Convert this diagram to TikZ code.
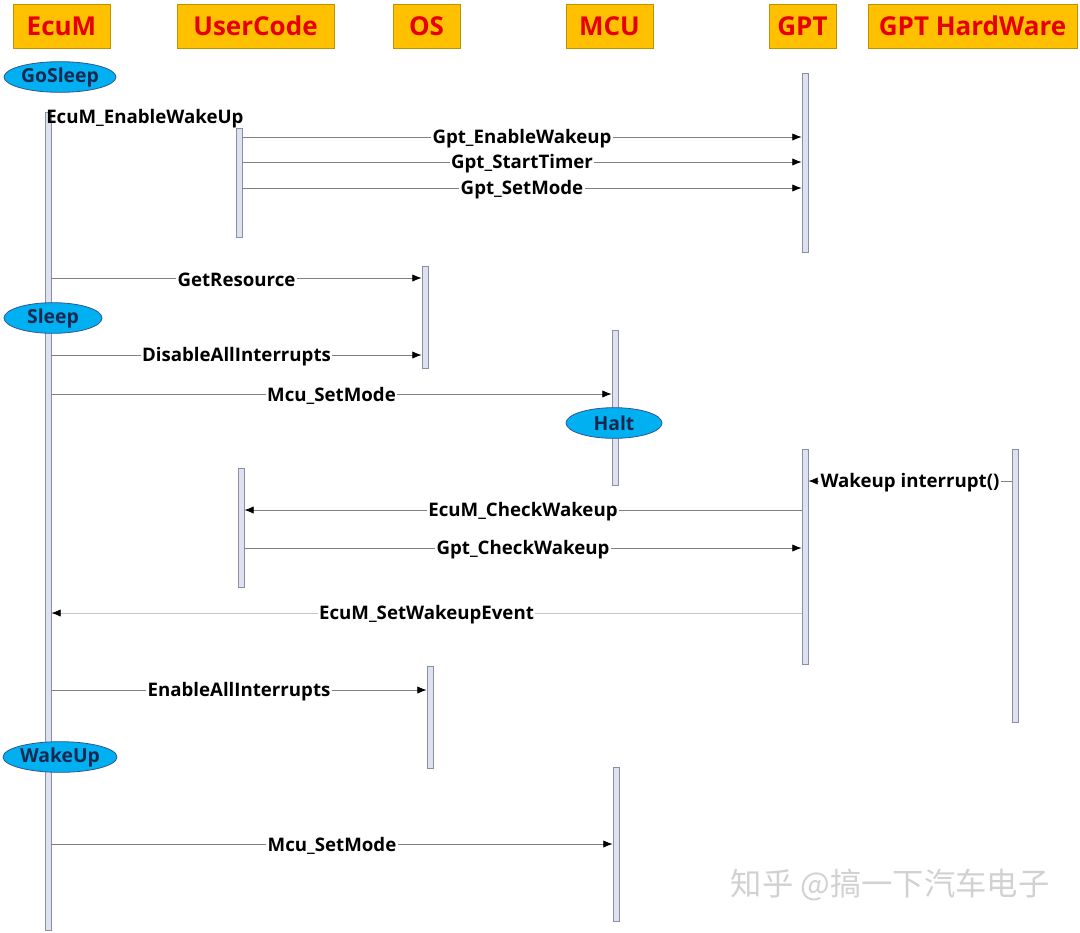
\documentclass[tikz,border=0pt]{standalone}
\usepackage{fontspec}
\setmainfont{Open Sans}
\newfontfamily\cjkwm{Noto Sans CJK SC}
\usetikzlibrary{arrows.meta, positioning, shapes.geometric, fit}
\definecolor{headFill}{RGB}{255, 192, 0}
\definecolor{headDraw}{RGB}{191, 144, 0}
\definecolor{headText}{RGB}{230, 0, 0}
\definecolor{ovalFill}{RGB}{0, 176, 240}
\definecolor{ovalDraw}{RGB}{47, 85, 151}
\definecolor{ovalText}{RGB}{24, 40, 80}
\definecolor{barFill}{RGB}{222, 226, 240}
\definecolor{barDraw}{RGB}{138, 143, 165}
\definecolor{msgLine}{gray}{0.5}
\definecolor{markText}{gray}{0.82}

\begin{document}
\begin{tikzpicture}[
        x=0.75pt,
        y=-0.75pt,
        headBox/.style={
            rectangle,
            draw=headDraw,
            fill=headFill,
            line width=0.6pt,
            minimum height=33pt,
            inner sep=0pt,
            text=headText,
            font=\fontsize{19.5}{22}\selectfont\bfseries
        },
        stateOval/.style={
            ellipse,
            draw=ovalDraw,
            fill=ovalFill,
            line width=0.6pt,
            inner sep=0pt,
            minimum height=23pt,
            text=ovalText,
            font=\fontsize{14.5}{16}\selectfont\bfseries
        },
        lifeBar/.style={rectangle, draw=barDraw, fill=barFill, line width=0.6pt, inner sep=0pt},
        msgArrow/.style={draw=msgLine, line width=0.6pt, -{Latex[length=7pt, width=5.5pt, black]}},
        msgLabel/.style={fill=white, inner sep=1pt, text=black, font=\fontsize{14}{16}\selectfont\bfseries}
    ]
        \useasboundingbox (0,0) rectangle (1080,932);

        % participants
        \node[headBox, minimum width=72.75pt] (ecum) at (61.5,26) {EcuM};
        \node[headBox, minimum width=117.75pt] (usercode) at (255.5,26) {UserCode};
        \node[headBox, minimum width=50.25pt] (os) at (426.5,26) {OS};
        \node[headBox, minimum width=65.25pt] (mcu) at (609.5,26) {MCU};
        \node[headBox, minimum width=50.25pt] (gpt) at (802.5,26) {GPT};
        \node[headBox, minimum width=156.75pt] (gpthw) at (972.5,26) {GPT HardWare};

        % activation bars
        \foreach \name/\xa/\ya/\xb/\yb in {
            ecumBar/45/112/51/930,
            userBarA/236/128/242/237,
            gptBarA/802/73/808/252,
            osBarA/422/266/428/368,
            mcuBarA/612/330/618/485,
            userBarB/238/468/244/587,
            gptBarB/802/449/808/664,
            hwBar/1012/449/1018/722,
            osBarB/427/666/433/768,
            mcuBarB/613/767/619/921} {
            \node[lifeBar, fit={(\xa,\ya) (\xb,\yb)}] (\name) {};
        }

        \node[msgLabel, fill=none, anchor=west, inner sep=0pt] (enableWake) at (46,119) {EcuM\_EnableWakeUp};

        % states
        \node[stateOval, minimum width=84pt] (goSleep) at (60,77) {GoSleep};
        \node[stateOval, minimum width=73.5pt] (sleep) at (53,318) {Sleep};
        \node[stateOval, minimum width=72pt] (halt) at (614,423) {Halt};
        \node[stateOval, minimum width=85.5pt] (wakeUp) at (60,757) {WakeUp};

        % calls, left to right
        \foreach \src/\dst/\y/\txt in {
            userBarA/gptBarA/137/Gpt\_EnableWakeup,
            userBarA/gptBarA/162/Gpt\_StartTimer,
            userBarA/gptBarA/188/Gpt\_SetMode,
            ecumBar/osBarA/278/GetResource,
            ecumBar/osBarA/355/DisableAllInterrupts,
            ecumBar/mcuBarA/394/Mcu\_SetMode,
            userBarB/gptBarB/548/Gpt\_CheckWakeup,
            ecumBar/osBarB/690/EnableAllInterrupts,
            ecumBar/mcuBarB/844/Mcu\_SetMode} {
            \draw[msgArrow] (\src.east |- 0,\y) -- (\dst.west |- 0,\y)
                node[msgLabel, midway, yshift=-1.2pt] {\txt};
        }

        % calls, right to left
        \draw[msgArrow] (hwBar.west |- 0,481) -- (gptBarB.east |- 0,481)
            node[msgLabel, midway, yshift=-1.2pt] {Wakeup interrupt()};
        \draw[msgArrow] (gptBarB.west |- 0,510) -- (userBarB.east |- 0,510)
            node[msgLabel, midway, yshift=-1.2pt] {EcuM\_CheckWakeup};
        \draw[msgArrow, draw=msgLine!45] (gptBarB.west |- 0,613) -- (ecumBar.east |- 0,613)
            node[msgLabel, midway, yshift=-1.2pt] {EcuM\_SetWakeupEvent};

        % watermark
        \node[text=markText, font=\cjkwm\fontsize{23.5}{26}\selectfont, anchor=west] (mark) at (726,885) {知乎 @搞一下汽车电子};
    \end{tikzpicture}
\end{document}
